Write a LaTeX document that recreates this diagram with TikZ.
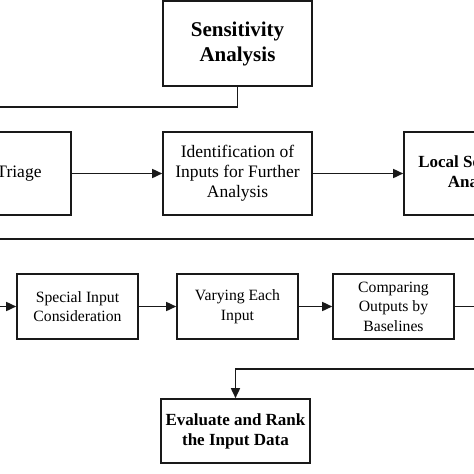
\documentclass[tikz,border=0pt]{standalone}
\usepackage{fontspec}
\setmainfont{Liberation Serif}
\usetikzlibrary{arrows.meta}
\begin{document}
\begin{tikzpicture}[x=1pt,y=-1pt,
  box/.style={draw=black!90, line width=1.6pt, align=center, inner sep=0pt},
  bigbox/.style={box, minimum width=149pt, minimum height=83pt},
  smallbox/.style={box, minimum width=121pt, minimum height=65pt, font=\fontsize{15.7}{19.5}\selectfont},
  regtext/.style={font=\fontsize{17.5}{20}\selectfont},
  boldtext/.style={font=\fontsize{17}{20}\selectfont\bfseries},
  titletext/.style={font=\fontsize{21}{25}\selectfont\bfseries},
  conn/.style={draw=black!90, line width=1.6pt},
  arr/.style={conn, -{Triangle[length=10pt,width=9pt]}}
]
\useasboundingbox (0,0) rectangle (474,474);
\clip (0,0) rectangle (474,474);

\node[bigbox, titletext, minimum height=85pt] (sa) at (237.5,43.5) {Sensitivity\\Analysis};
\node[box, regtext, minimum width=104pt, minimum height=83pt] (tri) at (19,173.5) {Triage};
\node[bigbox, regtext] (ident) at (237.5,173.5) {Identification of\\Inputs for Further\\Analysis};
\node[bigbox, boldtext] (local) at (478.5,173.5) {Local Sensitivity\\Analysis};

\node[smallbox] (spec) at (77.5,306.5) {Special Input\\Consideration};
\node[smallbox] (vary) at (237.5,306.5) {Varying Each\\Input};
\node[smallbox] (comp) at (393.5,306.5) {Comparing\\Outputs by\\Baselines};

\node[bigbox, boldtext, minimum height=64pt] (eval) at (235.5,431) {Evaluate and Rank\\the Input Data};

\coordinate (c1) at (-10,107);
\coordinate (l1) at (-10,239);
\coordinate (r1) at (484,239);
\coordinate (in3) at (-10,306.5);
\coordinate (out3) at (484,306.5);
\coordinate (in4) at (484,369);

\draw[conn] (sa.south) |- (c1);
\draw[arr] (tri.east) -- (ident.west);
\draw[arr] (ident.east) -- (local.west);
\draw[conn] (l1) -- (r1);
\draw[arr] (in3) -- (spec.west);
\draw[arr] (spec.east) -- (vary.west);
\draw[arr] (vary.east) -- (comp.west);
\draw[conn] (comp.east) -- (out3);
\draw[arr] (in4) -| (eval.north);
\end{tikzpicture}
\end{document}
